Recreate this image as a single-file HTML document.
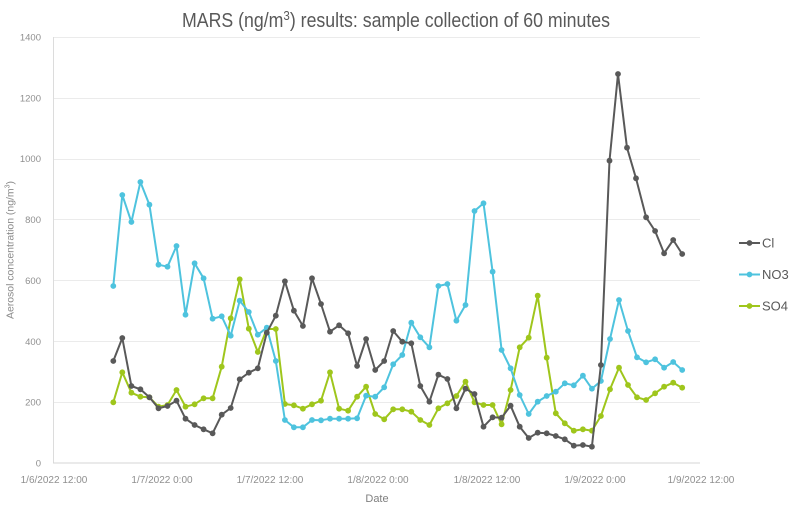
<!DOCTYPE html>
<html>
<head>
<meta charset="utf-8">
<style>
html,body{margin:0;padding:0;background:#fff;}
svg{display:block;font-family:"Liberation Sans",Arial,sans-serif;}
</style>
</head>
<body>
<svg width="800" height="508" viewBox="0 0 800 508" xmlns="http://www.w3.org/2000/svg">
<defs>
<marker id="mc" viewBox="-4 -4 8 8" markerWidth="8" markerHeight="8" markerUnits="userSpaceOnUse" refX="0" refY="0"><circle r="2.9" fill="#595959"/></marker>
<marker id="mn" viewBox="-4 -4 8 8" markerWidth="8" markerHeight="8" markerUnits="userSpaceOnUse" refX="0" refY="0"><circle r="2.9" fill="#4ec3de"/></marker>
<marker id="ms" viewBox="-4 -4 8 8" markerWidth="8" markerHeight="8" markerUnits="userSpaceOnUse" refX="0" refY="0"><circle r="2.9" fill="#9fc61c"/></marker>
</defs>
<rect width="800" height="508" fill="#fff"/>
<text x="182" y="27" font-size="20" fill="#595959" textLength="428" lengthAdjust="spacingAndGlyphs">MARS (ng/m<tspan font-size="13" dy="-7">3</tspan><tspan dy="7">) results: sample collection of 60 minutes</tspan></text>

<g stroke="#ebebeb" stroke-width="1">
<line x1="53" y1="37.5" x2="700" y2="37.5"/>
<line x1="53" y1="98.5" x2="700" y2="98.5"/>
<line x1="53" y1="159.5" x2="700" y2="159.5"/>
<line x1="53" y1="219.5" x2="700" y2="219.5"/>
<line x1="53" y1="280.5" x2="700" y2="280.5"/>
<line x1="53" y1="341.5" x2="700" y2="341.5"/>
<line x1="53" y1="402.5" x2="700" y2="402.5"/>
</g>
<line x1="53.5" y1="37" x2="53.5" y2="463" stroke="#dcdcdc" stroke-width="1"/>
<line x1="53" y1="463" x2="700" y2="463" stroke="#d6d6d6" stroke-width="1"/>

<g font-size="9.5" fill="#8f8f8f" text-anchor="end">
<text x="41" y="40.5">1400</text>
<text x="41" y="101.5">1200</text>
<text x="41" y="162">1000</text>
<text x="41" y="223">800</text>
<text x="41" y="284">600</text>
<text x="41" y="345">400</text>
<text x="41" y="405.5">200</text>
<text x="41" y="466.5">0</text>
</g>
<text transform="translate(13.5,250) rotate(-90)" font-size="10.5" fill="#8a8a8a" text-anchor="middle" textLength="138" lengthAdjust="spacingAndGlyphs">Aerosol concentration (ng/m<tspan font-size="7" dy="-4">3</tspan><tspan dy="4">)</tspan></text>

<g font-size="10" fill="#8f8f8f" text-anchor="middle">
<text x="54" y="483">1/6/2022 12:00</text>
<text x="162" y="483">1/7/2022 0:00</text>
<text x="270" y="483">1/7/2022 12:00</text>
<text x="378" y="483">1/8/2022 0:00</text>
<text x="487" y="483">1/8/2022 12:00</text>
<text x="595" y="483">1/9/2022 0:00</text>
<text x="701" y="483">1/9/2022 12:00</text>
</g>
<text x="377" y="502" font-size="11" fill="#7f7f7f" text-anchor="middle">Date</text>

<polyline fill="none" stroke="#9fc61c" stroke-width="2" stroke-linejoin="round" marker-start="url(#ms)" marker-mid="url(#ms)" marker-end="url(#ms)" points="113.3,402.3 122.3,372.3 131.4,392.7 140.4,396.7 149.4,397.3 158.5,406.7 167.5,405 176.5,390 185.5,406.7 194.6,404.3 203.6,398.3 212.6,398.3 221.7,366.7 230.7,318.3 239.7,279.3 248.8,328.7 257.8,352 266.8,329 275.8,329 284.9,404 293.9,405.3 302.9,408.7 312,404.3 321,400.7 330,372.3 339.1,408.7 348.1,410.7 357.1,396.7 366.1,386.7 375.2,414 384.2,419.3 393.2,409.3 402.3,409.3 411.3,411.7 420.3,420 429.4,425 438.4,408.3 447.4,403.3 456.4,396 465.5,381.7 474.5,402.3 483.5,405 492.6,405 501.6,424.3 510.6,390 519.7,347.3 528.7,337.7 537.7,295.7 546.7,357.7 555.8,413.3 564.8,423.3 573.8,430.7 582.9,429.3 591.9,430.7 600.9,416 610,389.3 619,367.7 628,385 637,397.3 646.1,400 655.1,393.3 664.1,386.7 673.2,382.7 682.2,387.7"/>

<polyline fill="none" stroke="#4ec3de" stroke-width="2" stroke-linejoin="round" marker-start="url(#mn)" marker-mid="url(#mn)" marker-end="url(#mn)" points="113.3,286 122.3,195 131.4,222 140.4,182 149.4,204.7 158.5,264.7 167.5,266.7 176.5,246 185.5,314.7 194.6,263.3 203.6,278.3 212.6,318.7 221.7,316.3 230.7,335.7 239.7,300.7 248.8,312 257.8,334.7 266.8,327.7 275.8,361 284.9,420 293.9,427.3 302.9,427.3 312,420 321,420.3 330,418.7 339.1,418.7 348.1,418.7 357.1,418.3 366.1,395.7 375.2,396.7 384.2,387.3 393.2,364.3 402.3,355 411.3,322.7 420.3,337.3 429.4,347.3 438.4,286 447.4,284 456.4,320.7 465.5,305 474.5,211 483.5,203.3 492.6,271.7 501.6,350 510.6,368.3 519.7,395 528.7,414 537.7,401.7 546.7,396 555.8,391.7 564.8,383.3 573.8,385.3 582.9,375.7 591.9,388.7 600.9,381 610,339 619,300 628,331 637,357.3 646.1,362.3 655.1,359.3 664.1,367.7 673.2,362 682.2,370"/>

<polyline fill="none" stroke="#595959" stroke-width="2" stroke-linejoin="round" marker-start="url(#mc)" marker-mid="url(#mc)" marker-end="url(#mc)" points="113.3,361 122.3,338 131.4,386 140.4,389.3 149.4,397.3 158.5,408.3 167.5,406 176.5,400.7 185.5,418.7 194.6,425 203.6,429.3 212.6,433.3 221.7,414.7 230.7,408 239.7,379.3 248.8,372.7 257.8,368.3 266.8,332.7 275.8,315.7 284.9,281.3 293.9,310.7 302.9,326 312,278.3 321,304 330,331.7 339.1,325.3 348.1,333.3 357.1,366 366.1,339 375.2,370 384.2,361 393.2,331 402.3,341.7 411.3,343.3 420.3,386 429.4,401.7 438.4,374.7 447.4,379 456.4,408.3 465.5,388.7 474.5,394 483.5,426.7 492.6,417.3 501.6,417.7 510.6,405.7 519.7,426.7 528.7,438 537.7,432.7 546.7,433.3 555.8,436 564.8,439.3 573.8,445.7 582.9,445 591.9,446.7 600.9,365 609.5,160.7 618,74 627,147.7 636,178.3 646.1,217.3 655.1,231 664.1,253.3 673.2,240 682.2,254"/>

<g>
<line x1="739" y1="243" x2="760" y2="243" stroke="#595959" stroke-width="2"/>
<circle cx="749.5" cy="243" r="2.9" fill="#595959"/>
<text x="762" y="247.5" font-size="13" fill="#595959">Cl</text>
<line x1="739" y1="274.5" x2="760" y2="274.5" stroke="#4ec3de" stroke-width="2"/>
<circle cx="749.5" cy="274.5" r="2.9" fill="#4ec3de"/>
<text x="762" y="279" font-size="13" fill="#595959">NO3</text>
<line x1="739" y1="306" x2="760" y2="306" stroke="#9fc61c" stroke-width="2"/>
<circle cx="749.5" cy="306" r="2.9" fill="#9fc61c"/>
<text x="762" y="310.5" font-size="13" fill="#595959">SO4</text>
</g>
</svg>
</body>
</html>
